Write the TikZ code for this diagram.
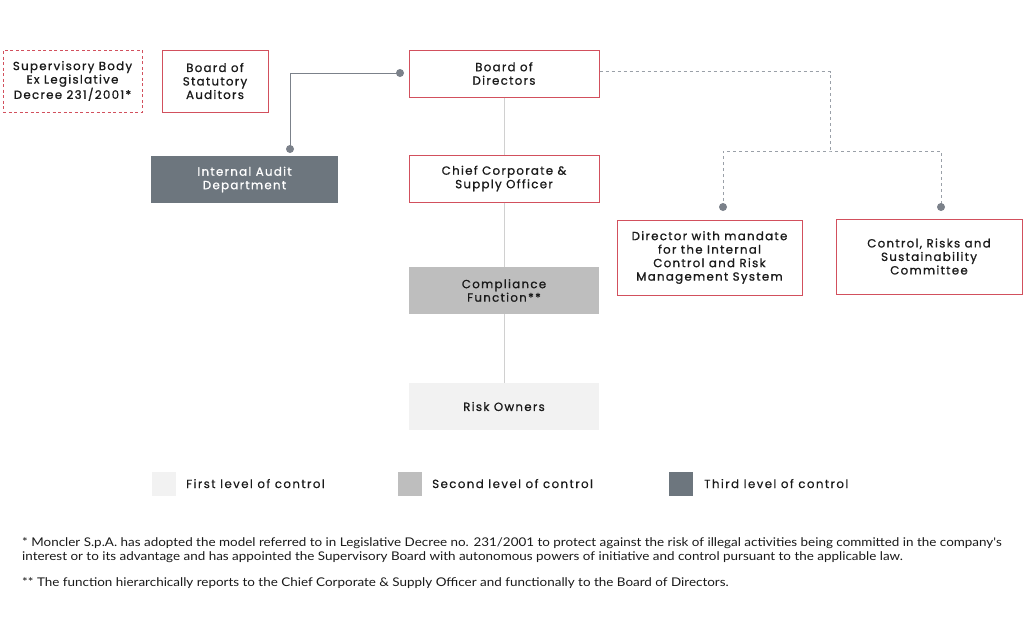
\documentclass[tikz,border=0pt]{standalone}
\usepackage{fontspec}
\setmainfont{Poppins}
\newfontfamily\boxf[LetterSpace=11,FakeBold=0.9]{Poppins}
\newfontfamily\legf[LetterSpace=12,FakeBold=0.4]{Poppins}
\newfontfamily\notef[FakeStretch=1.12]{Lato}
\definecolor{redb}{HTML}{D2505D}
\definecolor{darkg}{HTML}{6D767E}
\definecolor{midg}{HTML}{BEBEBE}
\definecolor{lightg}{HTML}{F2F2F2}
\definecolor{conng}{HTML}{7B818A}
\definecolor{dashg}{HTML}{9AA0A8}
\definecolor{vlg}{HTML}{D0D0D0}
\definecolor{txt}{HTML}{1A1A1A}
\begin{document}
\begin{tikzpicture}[x=1pt,y=-1pt,
  bfont/.style={font=\boxf\fontsize{11.8}{13.5}\selectfont},
  box/.style={draw=redb,line width=1pt,fill=white,inner sep=0pt,align=center,text=txt,bfont},
  lvlone/.style={fill=lightg,inner sep=0pt,align=center,text=txt,bfont},
  lvltwo/.style={fill=midg,inner sep=0pt,align=center,text=txt,bfont},
  lvlthree/.style={fill=darkg,inner sep=0pt,align=center,text=white,bfont},
  conn/.style={draw=conng,line width=1pt},
  dsh/.style={draw=dashg,line width=0.9pt,dash pattern=on 3pt off 3pt},
  vline/.style={draw=vlg,line width=1pt},
  dot/.style={fill=conng,draw=none},
  leg/.style={anchor=base west,text=txt,font=\legf\fontsize{11.8}{12}\selectfont,inner sep=0pt},
  note/.style={anchor=base west,text=txt,font=\notef\fontsize{12}{13}\selectfont,inner sep=0pt}
]
\useasboundingbox (0,0) rectangle (1024,619);
\fill[white] (0,0) rectangle (1024,619);

\node[box,draw=redb,dash pattern=on 3pt off 2.5pt,minimum width=139pt,minimum height=62pt] (sb) at (72.5,81) {Supervisory Body\\Ex Legislative\\Decree 231/2001*};
\node[box,minimum width=106pt,minimum height=62pt] (bsa) at (215,81) {Board of\\Statutory\\Auditors};
\node[box,minimum width=190pt,minimum height=47pt] (bod) at (504,73.5) {Board of\\Directors};
\node[lvlthree,minimum width=187pt,minimum height=47pt] (iad) at (244.5,179.5) {Internal Audit\\Department};
\node[box,minimum width=190pt,minimum height=47pt] (cc) at (504,178.5) {Chief Corporate \&\\Supply Officer};
\node[lvltwo,minimum width=190pt,minimum height=47pt] (cf) at (504,290.5) {Compliance\\Function**};
\node[lvlone,minimum width=190pt,minimum height=47pt] (ro) at (504,406.5) {Risk Owners};
\node[box,minimum width=185pt,minimum height=75pt] (dm) at (709.5,257.5) {Director with mandate\\for the Internal\\Control and Risk\\Management System};
\node[box,minimum width=186pt,minimum height=75pt] (crs) at (929,256.5) {Control, Risks and\\Sustainability\\Committee};

% vertical hierarchy
\draw[vline] (bod.south) -- (cc.north);
\draw[vline] (cc.south) -- (cf.north);
\draw[vline] (cf.south) -- (ro.north);

% internal audit connector
\coordinate (a1) at (400,73);
\coordinate (a2) at (290,149);
\draw[conn] (a1) -| (a2);
\fill[dot] (a1) circle (4pt);
\fill[dot] (a2) circle (4pt);

% dashed connectors
\coordinate (b0) at (830,151);
\coordinate (bl) at (723,207);
\coordinate (br) at (941,207);
\draw[dsh] ([yshift=2pt]bod.east) -| (b0);
\draw[dsh] (bl) |- (b0) -| (br);
\fill[dot] (bl) circle (4pt);
\fill[dot] (br) circle (4pt);

% legend
\node[fill=lightg,minimum size=24pt,inner sep=0pt] (l1) at (164,484) {};
\node[leg] (t1) at (186,488) {First level of control};
\node[fill=midg,minimum size=24pt,inner sep=0pt] (l2) at (410,484) {};
\node[leg] (t2) at (432,488) {Second level of control};
\node[fill=darkg,minimum size=24pt,inner sep=0pt] (l3) at (681,484) {};
\node[leg] (t3) at (704,488) {Third level of control};

% notes
\node[note] (n1) at (22,546) {* Moncler S.p.A. has adopted the model referred to in Legislative Decree no. 231/2001 to protect against the risk of illegal activities being committed in the company's};
\node[note] (n2) at (22,560) {interest or to its advantage and has appointed the Supervisory Board with autonomous powers of initiative and control pursuant to the applicable law.};
\node[note] (n3) at (22,586) {** The function hierarchically reports to the Chief Corporate \& Supply Officer and functionally to the Board of Directors.};
\end{tikzpicture}
\end{document}
